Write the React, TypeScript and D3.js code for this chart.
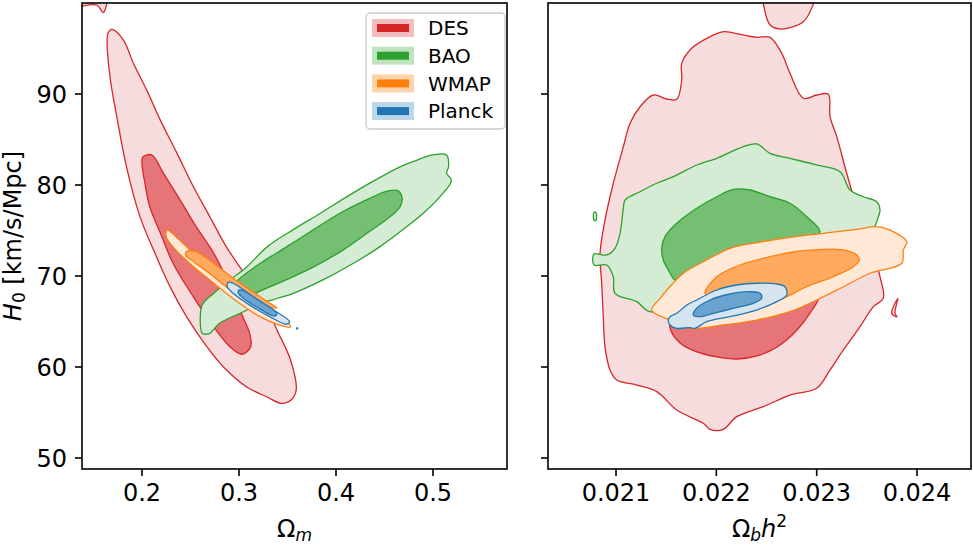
import React from "react";
import * as d3 from "d3";

type Pt = [number, number];

const PROBES = ["DES", "BAO", "WMAP", "Planck"];
const H0_TICKS = [50, 60, 70, 80, 90];
const OM_TICKS = [0.2, 0.3, 0.4, 0.5];
const OBH2_TICKS = [0.021, 0.022, 0.023, 0.024];

// Omega_m vs H0 contours (outer = 95%, inner = 68%)
const DES_OM_OUTER: Pt[][] = [
  [
    [0.169, 97.1], [0.181, 95.9], [0.191, 93.4], [0.205, 90.4], [0.219, 87.1], [0.236, 83.5],
    [0.253, 79.8], [0.27, 76.5], [0.287, 73.2], [0.308, 69.9], [0.325, 67.4], [0.339, 64.1],
    [0.353, 60.8], [0.359, 57.5], [0.354, 56.4], [0.344, 56.0], [0.329, 56.7], [0.308, 57.8],
    [0.284, 60.0], [0.267, 62.2], [0.246, 65.5], [0.229, 68.8], [0.215, 72.1], [0.198, 76.5],
    [0.184, 82.0], [0.174, 87.5], [0.167, 91.9], [0.164, 95.9], [0.165, 96.7],
  ],
  [
    [0.13, 100.6], [0.13, 99.65], [0.146, 99.8], [0.154, 99.75], [0.16, 98.95], [0.163, 100.6],
  ],
];
const DES_OM_INNER: Pt[][] = [
  [
    [0.201, 83.1], [0.21, 83.3], [0.222, 81.3], [0.239, 78.4], [0.256, 75.4], [0.274, 72.5],
    [0.291, 68.8], [0.304, 65.5], [0.311, 63.7], [0.312, 62.2], [0.303, 61.4], [0.291, 62.2],
    [0.274, 64.4], [0.253, 67.7], [0.232, 71.4], [0.219, 74.7], [0.208, 77.6], [0.203, 80.2],
    [0.2, 82.4],
  ],
];
const BAO_OM_OUTER: Pt[][] = [
  [
    [0.262, 63.7], [0.262, 66.8], [0.274, 68.1], [0.291, 69.6], [0.308, 71.0], [0.329, 73.2],
    [0.356, 75.1], [0.384, 76.9], [0.411, 78.7], [0.438, 80.4], [0.466, 82.0], [0.48, 82.6],
    [0.5, 83.3], [0.514, 83.3], [0.516, 82.0], [0.514, 81.3], [0.519, 80.5], [0.507, 78.7],
    [0.49, 76.9], [0.469, 75.1], [0.445, 73.2], [0.418, 71.4], [0.387, 69.6], [0.356, 68.1],
    [0.329, 67.2], [0.301, 65.9], [0.28, 64.8], [0.27, 63.7], [0.265, 63.6],
  ],
];
const BAO_OM_INNER: Pt[][] = [
  [
    [0.298, 69.4], [0.301, 69.75], [0.322, 71.4], [0.349, 73.2], [0.377, 75.1], [0.404, 76.9],
    [0.432, 78.4], [0.452, 79.3], [0.463, 79.4], [0.468, 78.7], [0.466, 77.6], [0.452, 76.2],
    [0.432, 74.7], [0.408, 72.9], [0.377, 71.0], [0.349, 69.6], [0.325, 68.5], [0.311, 67.9],
    [0.301, 68.2],
  ],
];
const WMAP_OM_OUTER: Pt[][] = [
  [
    [0.226, 75.05], [0.231, 74.7], [0.246, 73.2], [0.267, 71.4], [0.287, 69.6], [0.308, 67.9],
    [0.329, 66.5], [0.346, 65.35], [0.353, 64.4], [0.342, 64.6], [0.322, 65.5], [0.298, 67.2],
    [0.274, 69.2], [0.249, 71.4], [0.232, 73.2], [0.225, 74.3],
  ],
];
const WMAP_OM_INNER: Pt[][] = [
  [
    [0.246, 72.7], [0.255, 72.7], [0.274, 71.4], [0.294, 69.75], [0.311, 68.5], [0.329, 67.2],
    [0.339, 66.5], [0.329, 66.6], [0.308, 67.4], [0.287, 68.8], [0.267, 70.5], [0.253, 71.6],
    [0.245, 72.3],
  ],
];
const PLANCK_OM_OUTER: Pt[][] = [
  [
    [0.289, 69.3], [0.294, 69.2], [0.315, 67.7], [0.335, 66.3], [0.352, 65.0], [0.349, 64.7],
    [0.332, 65.5], [0.311, 66.8], [0.294, 68.1], [0.288, 68.8],
  ],
  [[0.3595, 64.3], [0.3605, 64.3], [0.3605, 64.2], [0.3595, 64.2]],
];
const PLANCK_OM_INNER: Pt[][] = [
  [
    [0.301, 68.5], [0.322, 67.2], [0.339, 65.9], [0.337, 65.6], [0.318, 66.6], [0.303, 67.7],
    [0.299, 68.2],
  ],
];

// Omega_b h^2 vs H0 contours
const DES_OB_OUTER: Pt[][] = [
  [
    [0.02207, 96.85], [0.022186, 96.67], [0.022402, 96.23], [0.022535, 96.23], [0.022652, 94.47],
    [0.022734, 92.27], [0.022867, 89.53], [0.023, 89.89], [0.023116, 89.97], [0.023133, 87.51],
    [0.0232, 85.31], [0.023299, 81.29], [0.023399, 77.62], [0.023532, 73.96], [0.023631, 69.92],
    [0.023664, 67.55], [0.023565, 66.63], [0.023432, 64.43], [0.023266, 61.87], [0.023133, 59.67],
    [0.023, 57.66], [0.022734, 56.92], [0.022468, 55.64], [0.022203, 54.54], [0.022069, 53.15],
    [0.021937, 53.15], [0.02187, 53.81], [0.021605, 55.27], [0.021406, 57.29], [0.021206, 58.02],
    [0.021007, 58.57], [0.02094, 59.67], [0.02089, 62.23], [0.020873, 65.53], [0.020857, 69.2],
    [0.020841, 72.49], [0.02089, 76.15], [0.020973, 80.19], [0.021073, 84.21], [0.02114, 86.78],
    [0.021239, 88.6], [0.021372, 89.89], [0.021505, 89.45], [0.021605, 89.42], [0.021655, 91.54],
    [0.021655, 93.37], [0.021754, 95.02], [0.021904, 96.12],
  ],
  [
    [0.022455, 100.6], [0.022468, 99.89], [0.022535, 97.58], [0.022652, 97.14], [0.022867, 97.95],
    [0.022967, 99.89], [0.02298, 100.6],
  ],
  [[0.02381, 67.55], [0.023748, 65.9], [0.0238, 65.5], [0.02378, 65.95]],
];
const DES_OB_INNER: Pt[][] = [
  [
    [0.021538, 64.29], [0.021638, 62.64], [0.021807, 61.65], [0.022007, 61.1], [0.022206, 60.88],
    [0.022405, 61.21], [0.022605, 62.2], [0.022804, 64.07], [0.022954, 66.26], [0.023013, 67.58],
    [0.022834, 68.46], [0.022435, 69.01], [0.022037, 68.46], [0.021738, 67.36], [0.021558, 65.71],
  ],
];
const BAO_OB_OUTER: Pt[][] = [
  [
    [0.020781, 72.42], [0.020907, 72.31], [0.02099, 73.04], [0.02104, 74.69], [0.021073, 77.44],
    [0.02109, 78.35], [0.021239, 79.26], [0.021406, 80.19], [0.021571, 80.91], [0.021804, 82.2],
    [0.022004, 82.93], [0.022269, 84.22], [0.022402, 84.51], [0.022535, 83.48], [0.022734, 82.93],
    [0.023, 82.2], [0.023233, 81.46], [0.023332, 79.45], [0.023465, 78.71], [0.023598, 78.16],
    [0.023631, 77.25], [0.023598, 75.97], [0.023565, 75.05], [0.023332, 71.54], [0.022435, 68.46],
    [0.021837, 67.36], [0.021339, 66.08], [0.021206, 67.18], [0.02099, 68.1], [0.020973, 69.92],
    [0.020907, 71.21], [0.020781, 71.21],
  ],
  [[0.02078, 77.0], [0.0208, 76.95], [0.0208, 76.1], [0.02078, 76.15]],
];
const BAO_OB_INNER: Pt[][] = [
  [
    [0.021455, 73.04], [0.021488, 74.32], [0.021605, 75.79], [0.021804, 77.44], [0.022004, 78.71],
    [0.022169, 79.52], [0.022336, 79.45], [0.022535, 78.71], [0.022734, 77.99], [0.022901, 76.52],
    [0.023033, 74.87], [0.022901, 73.63], [0.022402, 72.53], [0.021837, 71.1], [0.021638, 69.92],
    [0.021588, 69.56], [0.021521, 70.66], [0.021471, 71.76],
  ],
];
const WMAP_OB_OUTER: Pt[][] = [
  [
    [0.021356, 66.26], [0.021538, 65.16], [0.021738, 64.25], [0.022069, 64.62], [0.022402, 65.16],
    [0.022734, 66.08], [0.023, 67.36], [0.023266, 68.82], [0.023532, 70.3], [0.023848, 71.4],
    [0.023864, 72.86], [0.023897, 73.77], [0.023731, 75.05], [0.023598, 75.42], [0.023399, 75.13],
    [0.023066, 74.69], [0.022734, 74.25], [0.022402, 73.66], [0.022136, 73.04], [0.02187, 71.57],
    [0.021671, 70.3], [0.021538, 68.84], [0.021439, 67.55],
  ],
];
const WMAP_OB_INNER: Pt[][] = [
  [
    [0.021887, 68.1], [0.022004, 69.92], [0.022236, 71.21], [0.022535, 72.12], [0.022867, 72.78],
    [0.023266, 72.86], [0.023399, 72.31], [0.023425, 71.76], [0.023365, 71.02], [0.023166, 69.92],
    [0.022901, 68.82], [0.022668, 67.55], [0.022502, 66.81], [0.022236, 66.45], [0.021937, 67.73],
  ],
];
const PLANCK_OB_OUTER: Pt[][] = [
  [
    [0.021521, 65.16], [0.021538, 64.62], [0.021605, 64.25], [0.021738, 64.33], [0.021787, 64.25],
    [0.021904, 64.98], [0.022136, 65.53], [0.022402, 66.26], [0.022602, 67.18], [0.022701, 67.91],
    [0.022684, 68.82], [0.022602, 69.12], [0.022402, 69.2], [0.022203, 69.01], [0.022004, 68.46],
    [0.021804, 67.36], [0.021705, 66.81], [0.021605, 65.9], [0.021538, 65.53],
  ],
];
const PLANCK_OB_INNER: Pt[][] = [
  [
    [0.02177, 65.71], [0.021804, 66.45], [0.021937, 67.36], [0.022136, 68.02], [0.022336, 68.27],
    [0.022435, 68.1], [0.022452, 67.55], [0.022368, 67.0], [0.022169, 66.45], [0.02197, 65.9],
    [0.021837, 65.53],
  ],
];

const EDGE = ["#d62728", "#2ca02c", "#ff7f0e", "#1f77b4"];
const FILL_OUTER = ["#f7dcdd", "#d5ecd4", "#ffe9d6", "#d6e4f0"];
const FILL_INNER = ["#e57576", "#74bf72", "#ffaa5f", "#6aa3cd"];
const LEGEND_OUTER = ["#f4bcbc", "#bfe3bf", "#ffd4aa", "#bcd6ea"];

const omContours = [
  [DES_OM_OUTER, DES_OM_INNER],
  [BAO_OM_OUTER, BAO_OM_INNER],
  [WMAP_OM_OUTER, WMAP_OM_INNER],
  [PLANCK_OM_OUTER, PLANCK_OM_INNER],
];
const obContours = [
  [DES_OB_OUTER, DES_OB_INNER],
  [BAO_OB_OUTER, BAO_OB_INNER],
  [WMAP_OB_OUTER, WMAP_OB_INNER],
  [PLANCK_OB_OUTER, PLANCK_OB_INNER],
];

const FONT = "DejaVu Sans, sans-serif";
const TICK_FS = 24;
const SUB_FS = 17;
const top = 3;
const bottom = 469;
const yScale = d3.scaleLinear().domain([48.79, 100]).range([bottom, top]);

const Panel = ({ id, x0, x1, xDomain, xTicks, fmt, contours, showYLabels, xLabel }) => {
  const xScale = d3.scaleLinear().domain(xDomain).range([x0, x1]);
  const line = d3
    .line<Pt>()
    .x((d) => xScale(d[0]))
    .y((d) => yScale(d[1]))
    .curve(d3.curveCatmullRomClosed.alpha(0.5));

  return (
    <g>
      <defs>
        <clipPath id={id}>
          <rect x={x0} y={top} width={x1 - x0} height={bottom - top} />
        </clipPath>
      </defs>
      <g clipPath={`url(#${id})`}>
        {contours.map((levels, i) => (
          <g key={i}>
            {levels.map((polys, lvl) =>
              polys.map((p, j) => (
                <path
                  key={`${lvl}-${j}`}
                  d={line(p)}
                  fill={lvl === 0 ? FILL_OUTER[i] : FILL_INNER[i]}
                  stroke={EDGE[i]}
                  strokeWidth={1.3}
                  strokeLinejoin="round"
                />
              ))
            )}
          </g>
        ))}
      </g>
      <rect x={x0} y={top} width={x1 - x0} height={bottom - top} fill="none" stroke="#000" strokeWidth={1.6} />
      {xTicks.map((t) => (
        <g key={t} transform={`translate(${xScale(t)},${bottom})`}>
          <line y2={7} stroke="#000" strokeWidth={1.6} />
          <text y={32} textAnchor="middle" fontSize={TICK_FS} fontFamily={FONT}>
            {d3.format(fmt)(t)}
          </text>
        </g>
      ))}
      {H0_TICKS.map((t) => (
        <g key={t} transform={`translate(${x0},${yScale(t)})`}>
          <line x2={-7} stroke="#000" strokeWidth={1.6} />
          {showYLabels && (
            <text x={-15} dy="0.36em" textAnchor="end" fontSize={TICK_FS} fontFamily={FONT}>
              {t}
            </text>
          )}
        </g>
      ))}
      <text x={(x0 + x1) / 2} y={537} textAnchor="middle" fontSize={TICK_FS} fontFamily={FONT}>
        {xLabel}
      </text>
    </g>
  );
};

const Legend = () => (
  <g transform="translate(366,13)">
    <rect width={139} height={116} rx={4} fill="#fff" fillOpacity={0.8} stroke="#cccccc" strokeWidth={1.4} />
    {PROBES.map((name, i) => (
      <g key={name} transform={`translate(0,${15 + i * 27.7})`}>
        <rect x={6} y={-9} width={42} height={18} fill={LEGEND_OUTER[i]} />
        <rect x={11} y={-4} width={32} height={8} fill={EDGE[i]} />
        <text x={62} dy="0.36em" fontSize={20} fontFamily={FONT}>
          {name}
        </text>
      </g>
    ))}
  </g>
);

export default function App() {
  return (
    <svg width={973} height={545} style={{ position: "absolute", left: 0, top: 0, background: "#fff" }}>
      <Panel
        id="clip-om"
        x0={82}
        x1={507}
        xDomain={[0.13814, 0.57629]}
        xTicks={OM_TICKS}
        fmt=".1f"
        contours={omContours}
        showYLabels={true}
        xLabel={
          <>
            Ω<tspan fontStyle="italic" fontSize={SUB_FS} dy={4}>m</tspan>
          </>
        }
      />
      <Panel
        id="clip-ob"
        x0={548}
        x1={971}
        xDomain={[0.020322, 0.024538]}
        xTicks={OBH2_TICKS}
        fmt=".3f"
        contours={obContours}
        showYLabels={false}
        xLabel={
          <>
            Ω<tspan fontStyle="italic" fontSize={SUB_FS} dy={4}>b</tspan>
            <tspan fontStyle="italic" dy={-4}>h</tspan>
            <tspan fontSize={SUB_FS} dy={-10}>2</tspan>
          </>
        }
      />
      <Legend />
      <text transform={`translate(21,${(top + bottom) / 2}) rotate(-90)`} textAnchor="middle" fontSize={TICK_FS} fontFamily={FONT}>
        <tspan fontStyle="italic">H</tspan>
        <tspan fontSize={SUB_FS} dy={4}>0</tspan>
        <tspan dy={-4}> [km/s/Mpc]</tspan>
      </text>
    </svg>
  );
}
